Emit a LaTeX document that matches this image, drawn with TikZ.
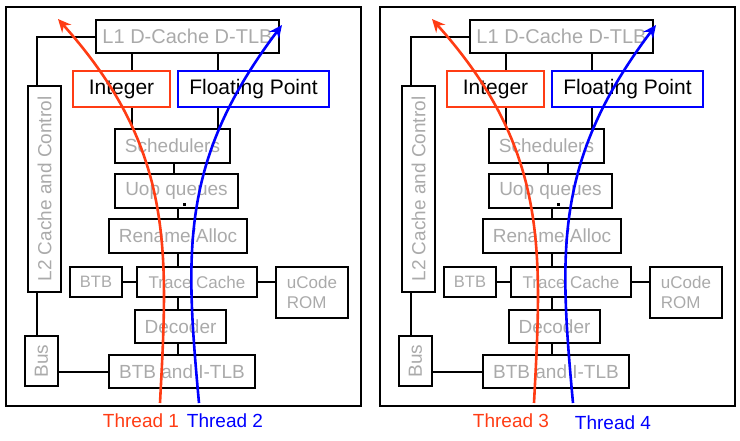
\documentclass[tikz,border=0pt]{standalone}
\usepackage{fontspec}
\setmainfont{Liberation Sans}
\usetikzlibrary{arrows.meta}
\definecolor{tred}{RGB}{255,60,20}
\definecolor{tblue}{RGB}{0,0,255}
\definecolor{gtext}{RGB}{170,170,170}
\newcommand\mypanel[5]{%
\begin{scope}[xshift=#1, name prefix=#2-]
\draw[line width=2pt] (6,7) rectangle (361,406);
\node[blk,minimum width=183,minimum height=33,font=\fontsize{20}{20}\selectfont] (l1) at (187.5,36.5) {L1 D-Cache D-TLB};
\node[blk,draw=tred,text=black,minimum width=97,minimum height=36,font=\fontsize{21}{21}\selectfont] (int) at (121.5,89) {Integer};
\node[blk,draw=tblue,text=black,minimum width=151,minimum height=36,font=\fontsize{21}{21}\selectfont] (fp) at (253.5,89) {Floating Point};
\node[blk,minimum width=115,minimum height=34] (sch) at (172.5,146) {Schedulers};
\node[blk,minimum width=123,minimum height=34] (uop) at (176.5,191) {Uop queues};
\node[blk,minimum width=138,minimum height=34] (ren) at (178,236) {Rename/Alloc};
\node[blk,minimum width=52,minimum height=30,font=\fontsize{16.5}{16.5}\selectfont] (btb) at (96,282) {BTB};
\node[blk,minimum width=120,minimum height=30,font=\fontsize{17}{17}\selectfont] (tc) at (197,282) {Trace Cache};
\node[blk,minimum width=72,minimum height=51,align=left,font=\fontsize{17}{20}\selectfont] (uc) at (312,292.5) {uCode\\ROM};
\node[blk,minimum width=91,minimum height=33] (dec) at (180.5,326.5) {Decoder};
\node[blk,minimum width=146,minimum height=33] (itlb) at (182,371.5) {BTB and I-TLB};
\node[blk,rotate=90,minimum width=206,minimum height=33] (l2) at (44.5,189) {L2 Cache and Control};
\node[blk,rotate=90,minimum width=50,minimum height=33] (bus) at (41.5,361) {Bus};
\coordinate (cx) at (37,0);
\draw[ln] (l2.east -| cx) |- (l1.west);
\draw[ln] (l2.west -| cx) -- (bus.east -| cx);
\draw[ln] (itlb.west -| bus.south) -- (itlb.west);
\draw[ln] (l1.south -| int.60) -- (int.north -| int.60);
\draw[ln] (l1.south -| fp.152) -- (fp.north -| fp.152);
\draw[ln] (int.south -| int.60) -- (sch.north -| int.60);
\draw[ln] (fp.south -| fp.152) -- (sch.north -| fp.152);
\coordinate (c1) at (174,0);
\coordinate (c2) at (178,0);
\draw[ln] (sch.south -| c1) -- (uop.north -| c1);
\draw[ln] (uop.south -| c2) -- (ren.north -| c2);
\draw[ln] (ren.south -| c2) -- (tc.north -| c2);
\draw[ln] (btb.east) -- (tc.west);
\draw[ln] (tc.east) -- (uc.west |- tc.east);
\draw[ln] (tc.south -| c2) -- (dec.north -| c2);
\draw[ln] (dec.south -| c2) -- (itlb.north -| c2);
\fill (183,203) rectangle (185.5,205.5);
\coordinate (r0) at (160,403); \coordinate (r1) at (58,19);
\coordinate (b0) at (199,403); \coordinate (b1) at (282,25);
\draw[thr,tred] (r0) .. controls (168,250) and (175,150) .. (r1);
\draw[thr,tblue] (b0) .. controls (185,250) and (180,160) .. (b1);
\node[lab,text=tred] (t1) at (#4,421) {#3};
\end{scope}}
\begin{document}
\begin{tikzpicture}[x=1pt,y=-1pt,
 blk/.style={draw,line width=2pt,inner sep=0pt,text=gtext,font=\fontsize{19}{19}\selectfont},
 ln/.style={line width=2pt},
 thr/.style={line width=2.6pt,-{Stealth[length=13pt,width=12pt]}},
 lab/.style={font=\fontsize{19}{19}\selectfont}]
\useasboundingbox (0,0) rectangle (740,440);
\mypanel{0}{A}{Thread 1}{141}{}
\node[lab,text=tblue] (A-t2) at (225,421) {Thread 2};
\mypanel{374}{B}{Thread 3}{137}{}
\node[lab,text=tblue] (B-t4) at (613,423) {Thread 4};
\end{tikzpicture}
\end{document}
